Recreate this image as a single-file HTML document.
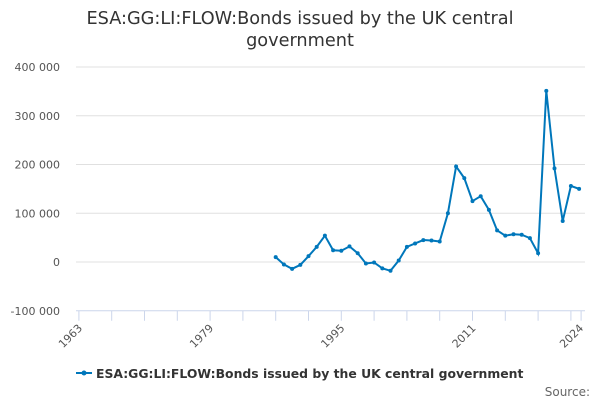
<!DOCTYPE html>
<html><head><meta charset="utf-8"><style>
body{margin:0;background:#fff;font-family:"Liberation Sans","DejaVu Sans",sans-serif;}
svg text{font-family:"DejaVu Sans","Liberation Sans",sans-serif;}
</style></head><body>
<svg id="chart" width="600" height="400" viewBox="0 0 600 400">
<text x="300" y="24" text-anchor="middle" font-size="17.7" fill="#333"><tspan x="300">ESA:GG:LI:FLOW:Bonds issued by the UK central</tspan><tspan x="300" dy="22">government</tspan></text>
<g id="grid"></g><g id="xaxis"></g><g id="series"></g>
<g>
<line x1="76" y1="373" x2="92" y2="373" stroke="#0077bb" stroke-width="2"/>
<circle cx="84" cy="373" r="2.5" fill="#0077bb"/>
<text x="96" y="378" font-size="12.4" font-weight="bold" fill="#333">ESA:GG:LI:FLOW:Bonds issued by the UK central government</text>
</g>
<text x="590" y="396" text-anchor="end" font-size="12" fill="#666">Source:</text>
</svg>
<script>
const years=[1987,1988,1989,1990,1991,1992,1993,1994,1995,1996,1997,1998,1999,2000,2001,2002,2003,2004,2005,2006,2007,2008,2009,2010,2011,2012,2013,2014,2015,2016,2017,2018,2019,2020,2021,2022,2023,2024];
const values=[10000,-5000,-14000,-6000,12000,31000,54000,24000,23000,32000,18000,-3000,-1000,-13000,-18000,3000,31000,38000,45000,44000,42000,100000,196000,172000,125000,135000,107000,65000,54000,57000,56000,49000,18000,351000,192000,84000,156000,150000];
const yTicks=[-100000,0,100000,200000,300000,400000];
const yTickLabels=["-100 000","0","100 000","200 000","300 000","400 000"];
const xTicks=[1963,1979,1995,2011,2024];
const ns="http://www.w3.org/2000/svg";
const X=y=>78.9+(y-1963)*8.2;
const Y=v=>262-v/100000*48.75;
function mk(t,a,p){const e=document.createElementNS(ns,t);for(const k in a)e.setAttribute(k,a[k]);p.appendChild(e);return e;}
const grid=document.getElementById('grid');
yTicks.forEach((v,i)=>{
 if(v!==-100000){const l=mk('line',{x1:76,x2:585,y1:Y(v),y2:Y(v),stroke:'#e0e0e0','stroke-width':1},grid);
 
 }
 const t=mk('text',{x:60,y:Y(v)+4,'text-anchor':'end','font-size':11,fill:'#555'},grid);t.textContent=yTickLabels[i];
 
 
});
const xa=document.getElementById('xaxis');
const ax=mk('line',{x1:76,x2:585,y1:Y(-100000),y2:Y(-100000),stroke:'#ccd6eb','stroke-width':1},xa);


for(let y=1963;y<=2023;y+=4){mk('line',{x1:X(y),x2:X(y),y1:Y(-100000),y2:Y(-100000)+10,stroke:'#ccd6eb'},xa);}
mk('line',{x1:X(2024)+2,x2:X(2024)+2,y1:Y(-100000),y2:Y(-100000)+10,stroke:'#ccd6eb'},xa);
xTicks.forEach(y=>{const x=X(y)+(y===2024?1:0);const t=mk('text',{x:x+4,y:Y(-100000)+18,'text-anchor':'end','font-size':11,fill:'#555',transform:`rotate(-45 ${x+4} ${Y(-100000)+18})`},xa);t.textContent=y;
 
 });
const s=document.getElementById('series');
const p=mk('path',{d:years.map((y,i)=>(i?'L':'M')+X(y)+' '+Y(values[i])).join(' '),fill:'none',stroke:'#0077bb','stroke-width':2},s);


years.forEach((y,i)=>{const c=mk('circle',{cx:X(y),cy:Y(values[i]),r:2,fill:'#0077bb'},s);
 
 });
</script>
</body></html>
